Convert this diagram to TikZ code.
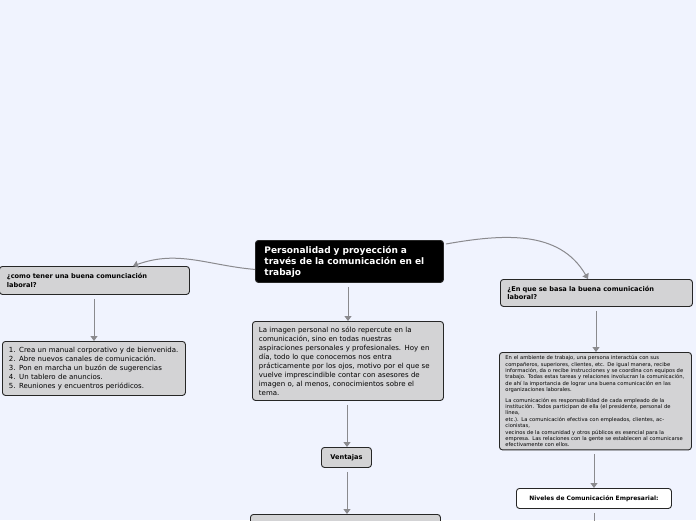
\documentclass[tikz,border=0pt]{standalone}
\usepackage{fontspec}
\setmainfont{DejaVu Sans}
\usetikzlibrary{arrows.meta}
\definecolor{bg}{HTML}{F0F3FE}
\definecolor{boxg}{HTML}{D3D3D5}
\definecolor{edge}{HTML}{8A8A8E}
\tikzset{
 box/.style={draw=black!85,line width=0.9pt,rounded corners=3pt,fill=boxg,anchor=north west,inner xsep=6pt,inner ysep=3pt,align=left},
 rootbox/.style={box,fill=black,text=white,font=\fontsize{9}{11}\selectfont\bfseries},
 qbox/.style={box,font=\fontsize{6.6}{8.2}\selectfont\bfseries},
 body/.style={box,font=\fontsize{7}{9}\selectfont},
 tiny/.style={box,font=\fontsize{5.2}{6.4}\selectfont},
 conn/.style={draw=edge,line width=1pt,-{Triangle[length=5pt,width=7pt]}},
}
\begin{document}
\begin{tikzpicture}[x=1pt,y=-1pt]
\fill[bg] (0,0) rectangle (696,520);
\useasboundingbox (0,0) rectangle (696,520);
\node[rootbox,minimum width=188pt,minimum height=42pt,text width=170pt] (root) at (255,240) {Personalidad y proyección a\\través de la comunicación en el\\trabajo};
\node[qbox,minimum width=190pt,minimum height=28pt,text width=175pt] (lq) at (-1,266) {¿como tener una buena comunciación\\laboral?};
\node[body,minimum width=183pt,minimum height=54pt,text width=170pt] (ll) at (2,341) {1. Crea un manual corporativo y de bienvenida.\\2. Abre nuevos canales de comunicación.\\3. Pon en marcha un buzón de sugerencias\\4. Un tablero de anuncios.\\5. Reuniones y encuentros periódicos.};
\node[body,minimum width=191pt,minimum height=79pt,text width=178pt] (ct) at (252,321) {La imagen personal no sólo repercute en la\\comunicación, sino en todas nuestras\\aspiraciones personales y profesionales. Hoy en\\día, todo lo que conocemos nos entra\\prácticamente por los ojos, motivo por el que se\\vuelve imprescindible contar con asesores de\\imagen o, al menos, conocimientos sobre el\\tema.};
\node[qbox,minimum width=50pt,minimum height=20pt,inner xsep=4pt,align=center] (v) at (321,447) {Ventajas};
\node[body,minimum width=190pt,minimum height=20pt] (cb) at (250,514) {};
\node[qbox,minimum width=192pt,minimum height=27pt,text width=178pt] (rq) at (500,279) {¿En que se basa la buena comunicación\\laboral?};
\node[tiny,minimum width=192pt,minimum height=89pt,text width=180pt] (rt) at (499,352) {En el ambiente de trabajo, una persona interactúa con sus\\compañeros, superiores, clientes, etc. De igual manera, recibe\\información, da o recibe instrucciones y se coordina con equipos de\\trabajo. Todas estas tareas y relaciones involucran la comunicación,\\de ahí la importancia de lograr una buena comunicación en las\\organizaciones laborales.\\[4pt]La comunicación es responsabilidad de cada empleado de la\\institución. Todos participan de ella (el presidente, personal de línea,\\etc.). La comunicación efectiva con empleados, clientes, accionistas,\\vecinos de la comunidad y otros públicos es esencial para la\\empresa. Las relaciones con la gente se establecen al comunicarse\\efectivamente con ellos.};
\node[qbox,fill=white,minimum width=155pt,minimum height=20pt,font=\fontsize{6}{7}\selectfont\bfseries,align=center] (nv) at (516,488) {Niveles de Comunicación Empresarial:};
\coordinate (nvend) at (594,522);
\draw[conn] (root.west) ++(0,8) to[out=175,in=20] (lq.north -| 133,0);
\draw[conn] (root.north east) ++(2,4) to[out=10,in=120] (588,279);
\draw[conn] (root.south -| 348,0) ++(0,4) -- (ct.north -| 348,0);
\draw[conn] (lq.south -| 94,0) ++(0,4) -- (ll.north -| 94,0);
\draw[conn] (ct.south -| 347,0) ++(0,4) -- (v.north -| 347,0);
\draw[conn] (v.south -| 347,0) ++(0,4) -- (cb.north -| 347,0);
\draw[conn] (rq.south -| 596,0) ++(0,4) -- (rt.north -| 596,0);
\draw[conn] (rt.south -| 594,0) ++(0,4) -- (nv.north -| 594,0);
\draw[draw=edge,line width=1pt] (nv.south -| 594,0) ++(0,4) -- (nvend);
\end{tikzpicture}
\end{document}
